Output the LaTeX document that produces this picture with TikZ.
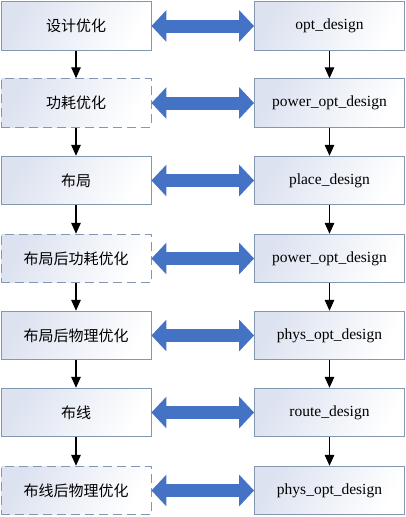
\documentclass[tikz,border=0pt]{standalone}
\usepackage{fontspec}
\setmainfont{Liberation Serif}
\newfontfamily\cjk{Noto Sans CJK SC}
\usetikzlibrary{arrows.meta}
\definecolor{boxline}{HTML}{8497B0}
\definecolor{boxtint}{HTML}{DCE2F0}
\definecolor{bigarrow}{HTML}{4472C4}
\tikzset{
  flowbox/.style={draw=boxline, line width=0.9pt, minimum width=150pt, minimum height=48.5pt,
    inner sep=0pt, shading=axis, left color=boxtint, right color=white, shading angle=60,
    font=\fontsize{15.5pt}{18pt}\selectfont},
  cnbox/.style={flowbox, font=\cjk\fontsize{15pt}{18pt}\selectfont},
  dashbox/.style={dash pattern=on 9pt off 5pt},
  downarrow/.style={-{Triangle[length=11pt,width=9.5pt]}, line width=1.3pt, black},
  bothway/.style={{Triangle[length=15pt,width=31pt]}-{Triangle[length=15pt,width=31pt]}, line width=13pt, draw=bigarrow},
}
\begin{document}
\begin{tikzpicture}[x=1pt,y=-1pt]
\useasboundingbox (0,0) rectangle (406,517);
% left column
\node[cnbox] (l1) at (76,26) {设计优化};
\node[cnbox,dashbox] (l2) at (76,103) {功耗优化};
\node[cnbox] (l3) at (76,180.5) {布局};
\node[cnbox,dashbox] (l4) at (76,258.5) {布局后功耗优化};
\node[cnbox] (l5) at (76,335.5) {布局后物理优化};
\node[cnbox] (l6) at (76,412.5) {布线};
\node[cnbox,dashbox] (l7) at (76,490.5) {布线后物理优化};
% right column
\node[flowbox] (r1) at (329.5,26) {opt\_design};
\node[flowbox] (r2) at (329.5,103) {power\_opt\_design};
\node[flowbox] (r3) at (329.5,180.5) {place\_design};
\node[flowbox] (r4) at (329.5,258.5) {power\_opt\_design};
\node[flowbox] (r5) at (329.5,335.5) {phys\_opt\_design};
\node[flowbox] (r6) at (329.5,412.5) {route\_design};
\node[flowbox] (r7) at (329.5,490.5) {phys\_opt\_design};
% connectors
\foreach \a/\b in {1/2,2/3,3/4,4/5,5/6,6/7}{
  \draw[downarrow] (l\a.south) -- (l\b.north);
  \draw[downarrow] (r\a.south) -- (r\b.north);
}
\foreach \i in {1,...,7}{
  \draw[bothway] (l\i.east) -- (r\i.west);
}
\end{tikzpicture}
\end{document}
